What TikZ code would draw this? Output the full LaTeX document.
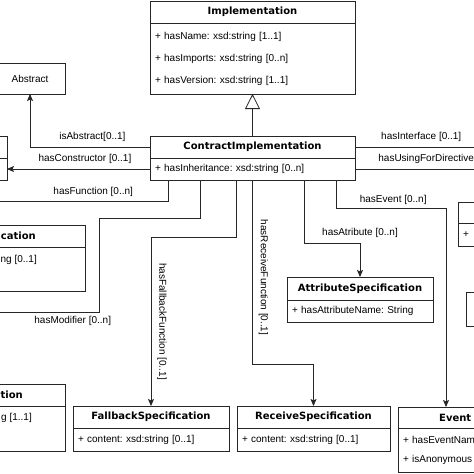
\documentclass[tikz,border=0pt]{standalone}
\usepackage{fontspec}
\setmainfont{Liberation Sans}
\newfontfamily\headfont{DejaVu Sans}
\usetikzlibrary{arrows.meta,positioning}
\frenchspacing

\tikzset{
  box/.style={draw=black!85, line width=0.8pt, fill=white, inner sep=0pt, outer sep=0pt, minimum height=22pt},
  head/.style={box, font=\headfont\bfseries\fontsize{10}{12}\selectfont},
  attr/.style={box, anchor=north west, align=left, inner xsep=5pt, font=\fontsize{10}{22}\selectfont},
  htext/.style={font=\headfont\bfseries\fontsize{10}{12}\selectfont, inner sep=0pt},
  lbl/.style={font=\fontsize{10}{12}\selectfont, inner sep=2pt},
  vlbl/.style={lbl, rotate=-90, anchor=south, inner ysep=6pt},
  link/.style={draw=black!85, line width=0.8pt},
  assoc/.style={link, -{Stealth[length=7pt,width=6pt,inset=1.5pt]}},
  gen/.style={link, -{Triangle[open,length=15pt,width=15pt]}},
}

\begin{document}
\begin{tikzpicture}[x=1pt, y=-1pt]
\useasboundingbox (0,0) rectangle (474,474);
\fill[white] (0,0) rectangle (474,474);

%% classes
\path
(252.5,12) node[head, minimum width=205pt] (impl) {Implementation}
(impl.south west) node[attr, text width=195pt, minimum height=71pt] (implattr)
  {+ hasName: xsd:string [1..1]\\+ hasImports: xsd:string [0..n]\\+ hasVersion: xsd:string [1..1]}
(30,78.5) node[box, minimum width=70pt, minimum height=31pt, font=\fontsize{10}{12}\selectfont] (abstract) {Abstract}
(252.5,147) node[head, minimum width=205pt] (ci) {ContractImplementation}
(ci.south west) node[attr, text width=195pt] (ciattr) {+ hasInheritance: xsd:string [0..n]};

%% classes cut by the left border
\path
(-26.5,147) node[head, minimum width=67pt] (ctor) {}
(ctor.south west) node[attr, text width=57pt] (ctorattr) {}
(12.5,236) node[head, minimum width=145pt] (fn) {}
(fn.south west) node[attr, text width=135pt, minimum height=44pt] (fnattr) {}
(36,236) node[htext, anchor=east] (fnname) {cation}
(37,260) node[lbl, inner sep=0pt, anchor=east] (fntype) {ng [0..1]}
(2.5,395) node[head, minimum width=125pt] (md) {}
(md.south west) node[attr, text width=115pt, minimum height=45pt] (mdattr) {}
(23,395) node[htext, anchor=east] (mdname) {tion}
(32,418) node[lbl, inner sep=0pt, anchor=east] (mdtype) {g [1..1]};

%% classes at the bottom
\path
(151,417) node[head, minimum width=156pt] (fb) {FallbackSpecification}
(fb.south west) node[attr, text width=146pt, minimum height=23pt] (fbattr) {+ content: xsd:string [0..1]}
(313.5,417) node[head, minimum width=153pt] (rc) {ReceiveSpecification}
(rc.south west) node[attr, text width=143pt, minimum height=23pt] (rcattr) {+ content: xsd:string [0..1]}
(360,288.5) node[head, minimum width=146pt, minimum height=23pt] (att) {AttributeSpecification}
(att.south west) node[attr, text width=136pt] (attattr) {+ hasAttributeName: String}
(479,417.5) node[head, minimum width=162pt, minimum height=21pt] (ev) {}
(ev.south west) node[attr, text width=152pt, minimum height=44pt, font=\fontsize{10}{19}\selectfont] (evattr)
  {+ hasEventNam\\+ isAnonymous}
(439,417.5) node[htext, anchor=west] (evname) {Event};

%% classes cut by the right border
\path
(489,212.5) node[head, minimum width=62pt, minimum height=21pt] (rt) {}
(rt.south west) node[attr, text width=52pt, minimum height=23pt] (rtattr) {+}
(498,309) node[box, minimum width=64pt, minimum height=34pt] (rb) {};

%% free ends
\coordinate (fnend) at (-2,201);
\coordinate (modbend) at (99,218);
\coordinate (modend) at (-2,312);
\coordinate (ifend) at (480,147);
\coordinate (ufend) at (480,169);

%% generalization
\draw[gen] (ci.north) -- (implattr.south);

%% relations to the left
\draw[assoc] (ci.west) -| node[lbl, above=3pt, pos=0.24] {isAbstract[0..1]} (abstract.south);
\draw[assoc] (ciattr.west) -- node[lbl, above=3pt, pos=0.455] {hasConstructor [0..1]} (ctorattr.east);
\draw[link] ([xshift=18pt]ciattr.south west) |- node[lbl, above=2pt, pos=0.72] {hasFunction [0..n]} (fnend);
\draw[link] ([xshift=50pt]ciattr.south west) |- (modbend) |- node[lbl, below=1.5pt, pos=0.63] {hasModifier [0..n]} (modend);

%% relations to the right
\draw[link] (ci.east) -- node[lbl, above=3pt, pos=0.53] {hasInterface [0..1]} (ifend);
\draw[link] (ciattr.east) -- node[lbl, above=3pt, pos=0.168, anchor=south west] {hasUsingForDirective} (ufend);

%% relations downwards
\draw[assoc] ([xshift=86pt]ciattr.south west) -- ++(0,57) -| node[vlbl, pos=0.75] {hasFallbackFunction [0..1]} (fb.north);
\draw[assoc] (ciattr.south) -- node[vlbl, pos=0.53] {hasReceiveFunction [0..1]} ++(0,184) -| (rc.north);
\draw[assoc] ([xshift=154pt]ciattr.south west) -- ++(0,63) -| node[lbl, above=3pt, pos=0.5] {hasAtribute [0..n]} (att.north);
\draw[assoc] ([xshift=186pt]ciattr.south west) -- ++(0,28) -| node[lbl, above=1pt, pos=0.26] {hasEvent [0..n]} ([xshift=48pt]ev.north west);

\end{tikzpicture}
\end{document}
